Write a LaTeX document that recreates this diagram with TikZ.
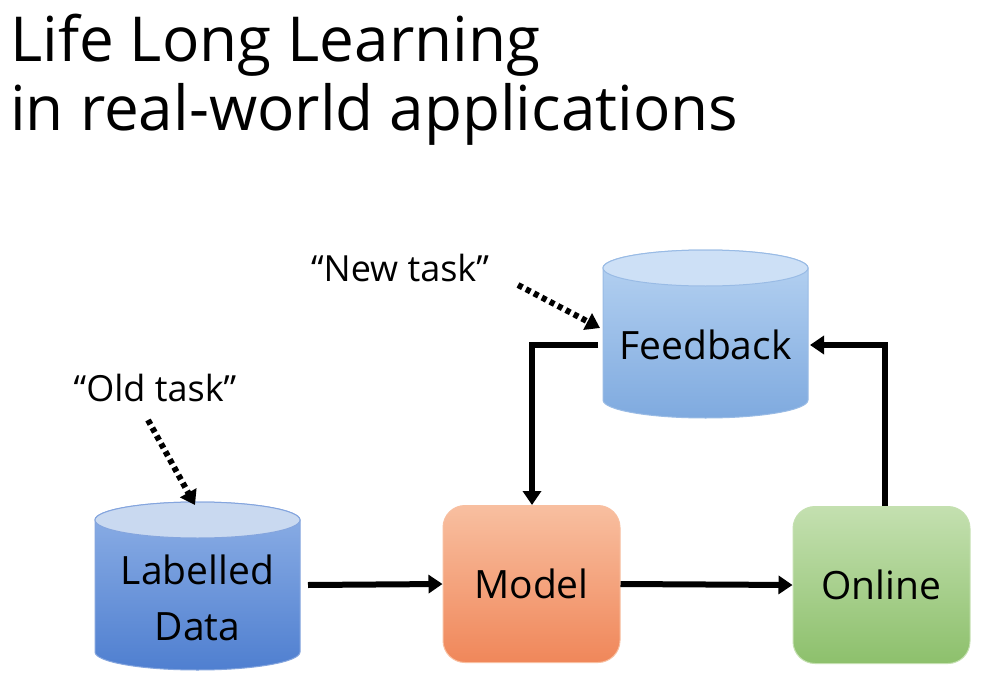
\documentclass[tikz,border=0pt]{standalone}
\usepackage{fontspec}
\setmainfont{Open Sans}
\usetikzlibrary{arrows.meta}
\definecolor{bluetop}{HTML}{C9D9F0}
\definecolor{blueA}{HTML}{8EB0E6}
\definecolor{blueB}{HTML}{4F7FD0}
\definecolor{fbA}{HTML}{B7D3F2}
\definecolor{fbB}{HTML}{7FAADF}
\definecolor{orA}{HTML}{F8BFA0}
\definecolor{orB}{HTML}{F0875A}
\definecolor{grA}{HTML}{C4E0B0}
\definecolor{grB}{HTML}{8DC06C}
\tikzset{
  conn/.style={line width=6pt,-{Triangle[length=14pt,width=18pt]}},
  dot/.style={line width=6pt,dash pattern=on 5pt off 4pt,-{Triangle[length=14pt,width=18pt]}},
  lbl/.style={font=\fontsize{39}{56}\selectfont,align=center},
  small/.style={font=\fontsize{36}{40}\selectfont},
  box/.style={rounded corners=22pt,minimum width=177pt,minimum height=157pt,line width=1pt},
}
\begin{document}
\begin{tikzpicture}[x=1pt,y=-1pt]
\useasboundingbox (0,0) rectangle (983,693);
\fill[white] (0,0) rectangle (983,693);
\node[anchor=base west,font=\fontsize{62}{64}\selectfont,inner sep=0] (t1) at (10,62) {Life Long Learning};
\node[anchor=base west,font=\fontsize{62}{64}\selectfont,inner sep=0] (t2) at (10,130) {in real-world applications};
% Labelled Data cylinder
\path[top color=blueA,bottom color=blueB,draw=blueB!70,line width=1pt] (95,520) -- (95,652) arc[start angle=180,end angle=0,x radius=102.5,y radius=18] -- (300,520) arc[start angle=0,end angle=-180,x radius=102.5,y radius=18] -- cycle;
\path[fill=bluetop,draw=blueB!70,line width=1pt] (197.5,520) ellipse[x radius=102.5,y radius=18];
\node[lbl] (ld) at (197.5,598) {Labelled\\Data};
% Feedback cylinder
\path[top color=fbA,bottom color=fbB,draw=fbB!80,line width=1pt] (603,268) -- (603,400) arc[start angle=180,end angle=0,x radius=102.5,y radius=18] -- (808,268) arc[start angle=0,end angle=-180,x radius=102.5,y radius=18] -- cycle;
\path[fill=fbA!70!white,draw=fbB!80,line width=1pt] (705.5,268) ellipse[x radius=102.5,y radius=18];
\node[lbl] (fb) at (705.5,345) {Feedback};
% Model, Online
\node[box,top color=orA,bottom color=orB,draw=orA,lbl] (m) at (531.5,584) {Model};
\node[box,top color=grA,bottom color=grB,draw=grA,lbl] (on) at (881.5,585) {Online};
\node[small] (nt) at (400,268) {“New task”};
\node[small] (ot) at (155,388) {“Old task”};
\coordinate (fbL) at (598,345);
\coordinate (fbR) at (810,345);
\draw[conn] (308,585) -- (m.west);
\draw[conn] (m.east) -- (on.west);
\draw[conn] (on.north -| 885,0) |- (fbR);
\draw[conn] (fbL) -| (532,505);
\draw[dot] (518,285) -- (600,328);
\draw[dot] (148,420) -- (195,505);
\end{tikzpicture}
\end{document}
